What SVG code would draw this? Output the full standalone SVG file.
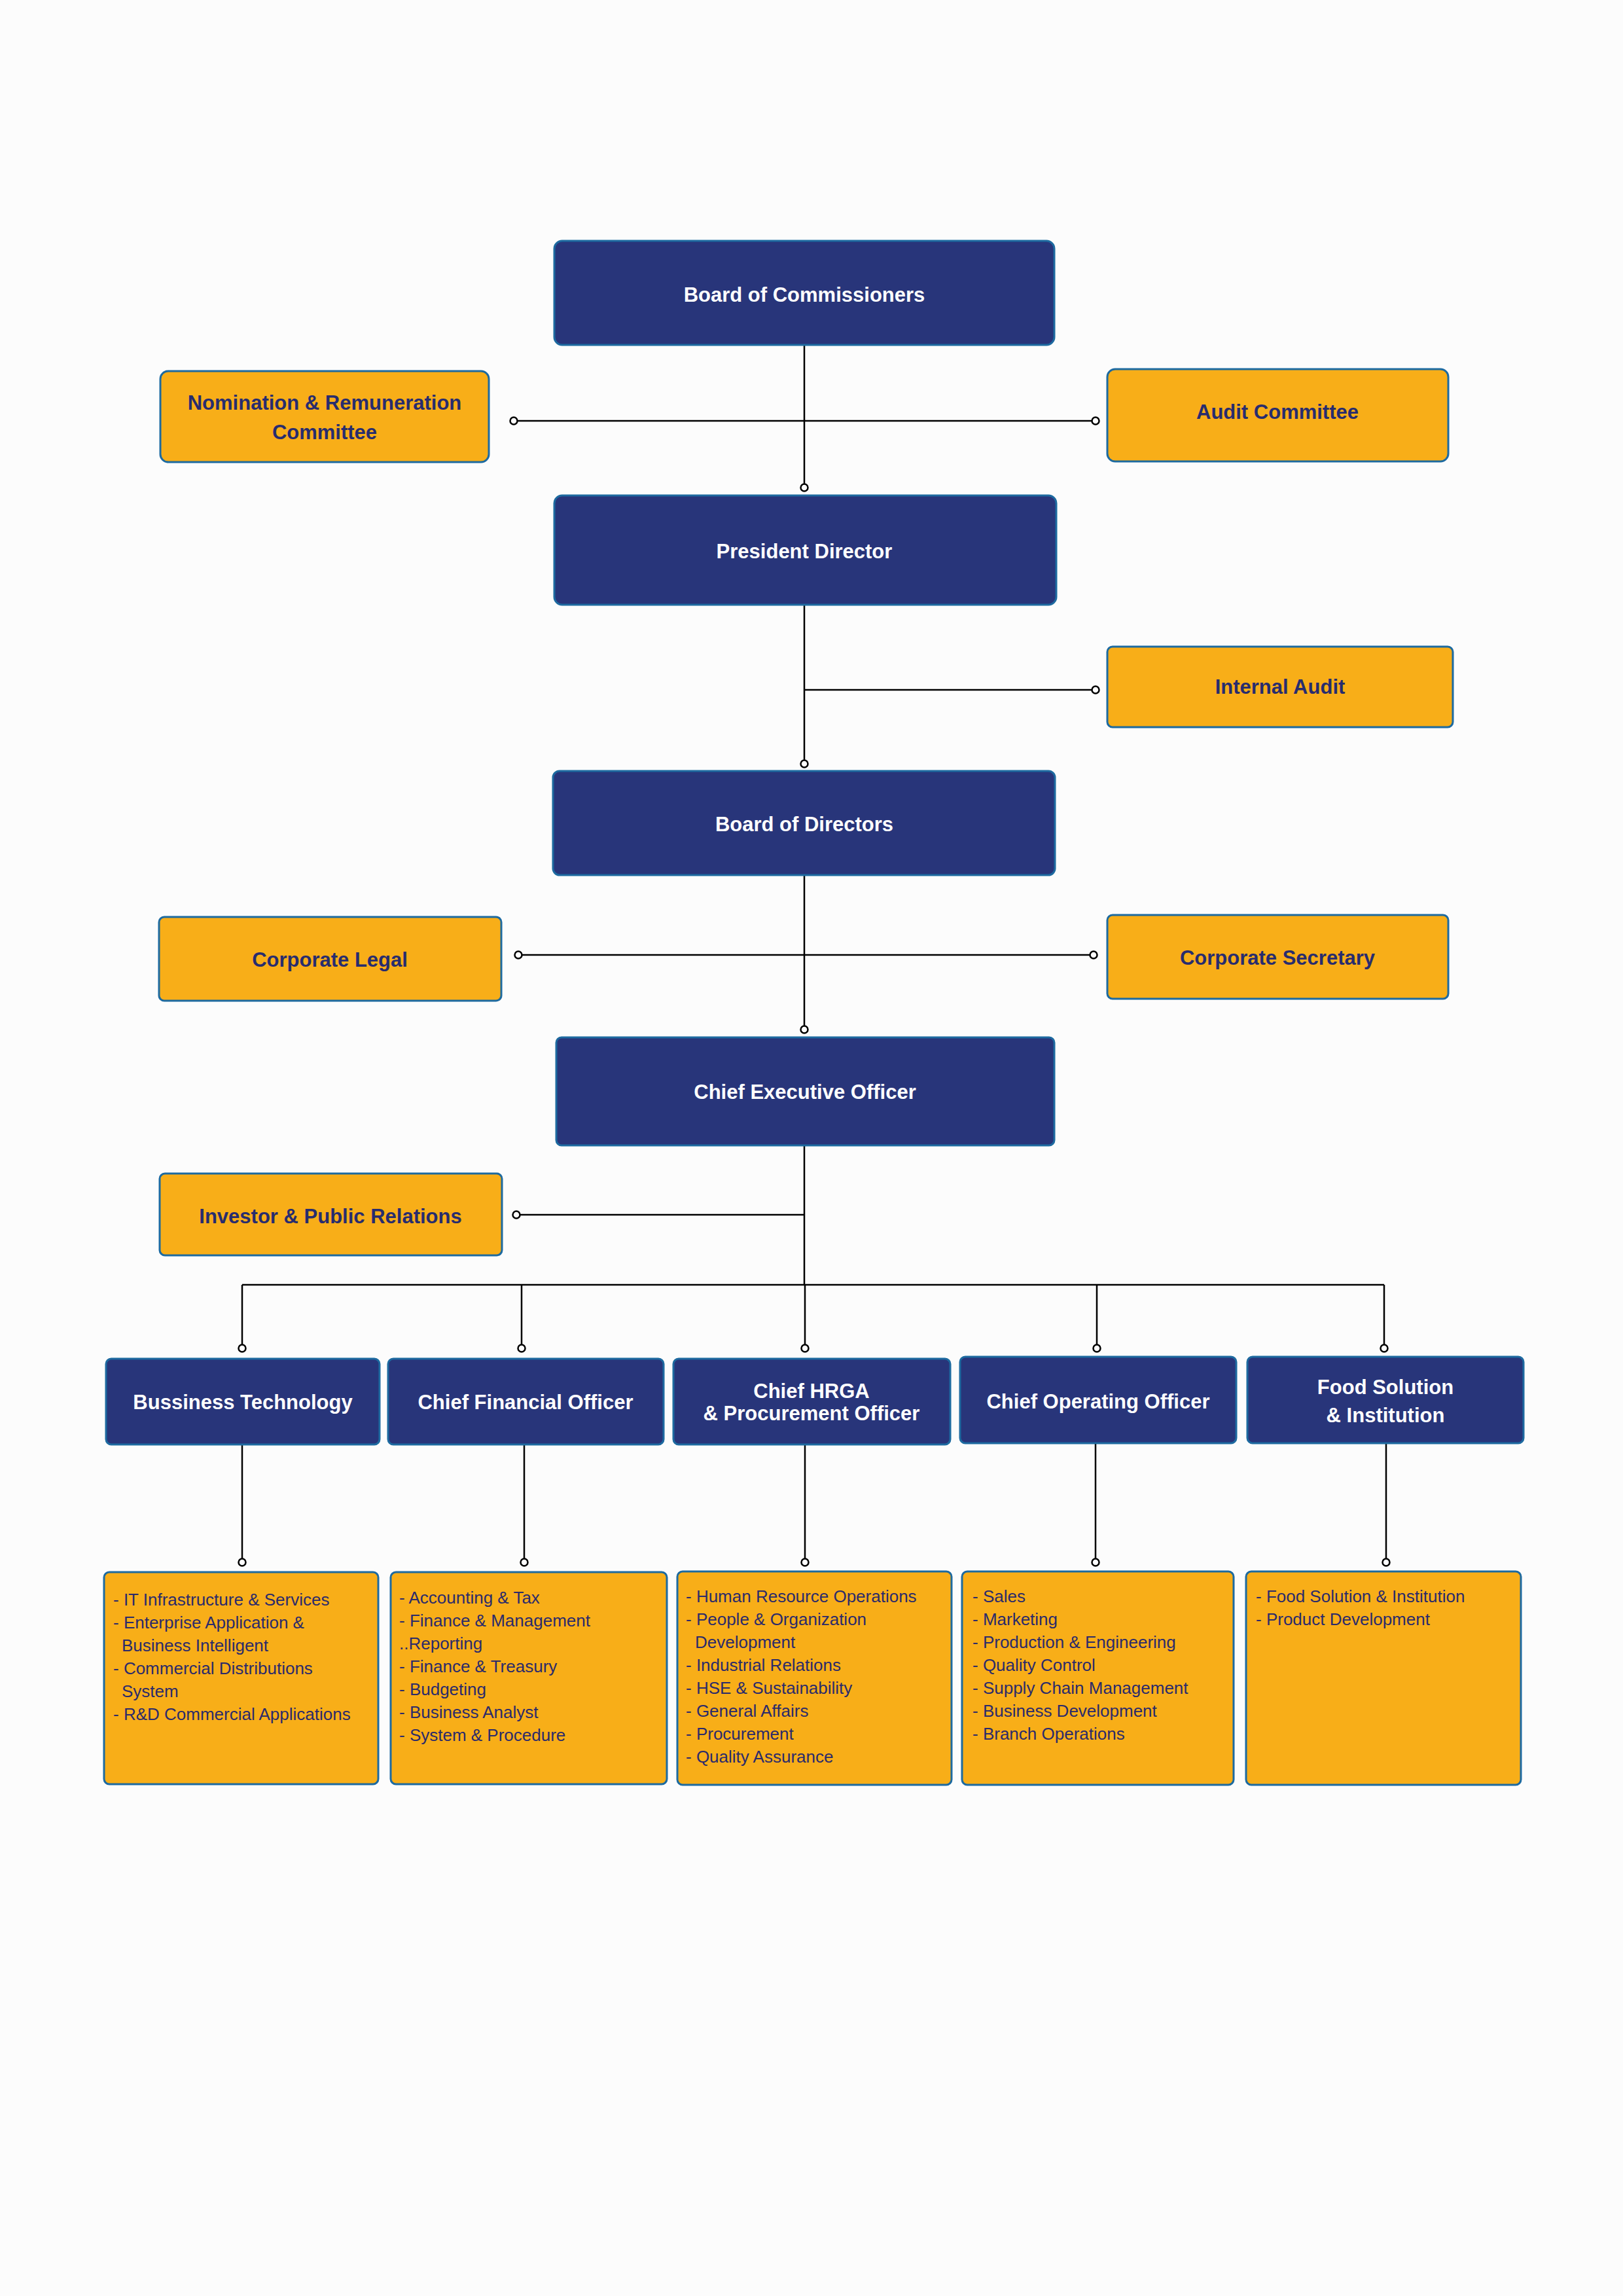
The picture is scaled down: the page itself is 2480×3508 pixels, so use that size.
<svg xmlns="http://www.w3.org/2000/svg" width="2480" height="3508" viewBox="0 0 2480 3508">
<defs>
<style>
.navy{fill:#28357a;stroke:#1d6aa0;stroke-width:3}
.gold{fill:#f8ae18;stroke:#1d6aa0;stroke-width:3}
.tw{font-family:"Liberation Sans",Arial,sans-serif;font-weight:bold;font-size:31px;fill:#ffffff;text-anchor:middle}
.tn{font-family:"Liberation Sans",Arial,sans-serif;font-weight:bold;font-size:31px;fill:#282c6e;text-anchor:middle}
.li{font-family:"Liberation Sans",Arial,sans-serif;font-size:26px;fill:#2b2a6b}
.ln{stroke:#000;stroke-width:2.5;fill:none}
.dot{fill:#fff;stroke:#000;stroke-width:2.5}
</style>
</defs>
<rect width="2480" height="3508" fill="#fcfcfc"/>
<g id="connectors">
<path class="ln" d="M1229 527V745M785 643H1674M1229 924V1167M1229 1054H1674M1229 1337V1573M792 1459H1671M1229 1750V1963M789 1856H1229M370 1963H2115M370 1963V2060M797 1963V2060M1230 1963V2060M1676 1963V2060M2115 1963V2060M370 2207V2387M801 2207V2387M1230 2207V2387M1674 2205V2387M2118 2205V2387"/>
<circle class="dot" cx="1229" cy="745" r="5.5"/>
<circle class="dot" cx="785" cy="643" r="5.5"/>
<circle class="dot" cx="1674" cy="643" r="5.5"/>
<circle class="dot" cx="1229" cy="1167" r="5.5"/>
<circle class="dot" cx="1674" cy="1054" r="5.5"/>
<circle class="dot" cx="1229" cy="1573" r="5.5"/>
<circle class="dot" cx="792" cy="1459" r="5.5"/>
<circle class="dot" cx="1671" cy="1459" r="5.5"/>
<circle class="dot" cx="789" cy="1856" r="5.5"/>
<circle class="dot" cx="370" cy="2060" r="5.5"/>
<circle class="dot" cx="797" cy="2060" r="5.5"/>
<circle class="dot" cx="1230" cy="2060" r="5.5"/>
<circle class="dot" cx="1676" cy="2060" r="5.5"/>
<circle class="dot" cx="2115" cy="2060" r="5.5"/>
<circle class="dot" cx="370" cy="2387" r="5.5"/>
<circle class="dot" cx="801" cy="2387" r="5.5"/>
<circle class="dot" cx="1230" cy="2387" r="5.5"/>
<circle class="dot" cx="1674" cy="2387" r="5.5"/>
<circle class="dot" cx="2118" cy="2387" r="5.5"/>
</g>
<g id="board-of-commissioners">
<rect class="navy" x="847" y="368" width="764" height="159" rx="12"/>
<text class="tw" x="1229" y="461">Board of Commissioners</text>
</g>
<g id="nomination-remuneration">
<rect class="gold" x="245" y="567" width="502" height="139" rx="12"/>
<text class="tn" x="496" y="626">Nomination &amp; Remuneration</text>
<text class="tn" x="496" y="671">Committee</text>
</g>
<g id="audit-committee">
<rect class="gold" x="1692" y="564" width="521" height="141" rx="12"/>
<text class="tn" x="1952" y="640">Audit Committee</text>
</g>
<g id="president-director">
<rect class="navy" x="847" y="757" width="767" height="167" rx="12"/>
<text class="tw" x="1229" y="853">President Director</text>
</g>
<g id="internal-audit">
<rect class="gold" x="1692" y="988" width="528" height="123" rx="8"/>
<text class="tn" x="1956" y="1060">Internal Audit</text>
</g>
<g id="board-of-directors">
<rect class="navy" x="845" y="1178" width="767" height="159" rx="10"/>
<text class="tw" x="1229" y="1270">Board of Directors</text>
</g>
<g id="corporate-legal">
<rect class="gold" x="243" y="1401" width="523" height="128" rx="8"/>
<text class="tn" x="504" y="1477">Corporate Legal</text>
</g>
<g id="corporate-secretary">
<rect class="gold" x="1692" y="1398" width="521" height="128" rx="8"/>
<text class="tn" x="1952" y="1474">Corporate Secretary</text>
</g>
<g id="ceo">
<rect class="navy" x="850" y="1585" width="761" height="165" rx="8"/>
<text class="tw" x="1230" y="1679">Chief Executive Officer</text>
</g>
<g id="investor-public-relations">
<rect class="gold" x="244" y="1793" width="523" height="125" rx="8"/>
<text class="tn" x="505" y="1869">Investor &amp; Public Relations</text>
</g>
<g id="business-technology">
<rect class="navy" x="162" y="2076" width="418" height="131" rx="8"/>
<text class="tw" x="371" y="2153">Bussiness Technology</text>
</g>
<g id="cfo">
<rect class="navy" x="593" y="2076" width="421" height="131" rx="8"/>
<text class="tw" x="803" y="2153">Chief Financial Officer</text>
</g>
<g id="chro">
<rect class="navy" x="1029" y="2076" width="423" height="131" rx="8"/>
<text class="tw" x="1240" y="2136">Chief HRGA</text>
<text class="tw" x="1240" y="2170">&amp; Procurement Officer</text>
</g>
<g id="coo">
<rect class="navy" x="1467" y="2073" width="422" height="132" rx="8"/>
<text class="tw" x="1678" y="2152">Chief Operating Officer</text>
</g>
<g id="food-solution">
<rect class="navy" x="1906" y="2073" width="422" height="132" rx="8"/>
<text class="tw" x="2117" y="2130">Food Solution</text>
<text class="tw" x="2117" y="2173">&amp; Institution</text>
</g>
<g id="bt-functions">
<rect class="gold" x="159" y="2402" width="419" height="324" rx="8"/>
<text class="li" x="173" y="2453">- IT Infrastructure &amp; Services</text>
<text class="li" x="173" y="2488">- Enterprise Application &amp;</text>
<text class="li" x="186" y="2523">Business Intelligent</text>
<text class="li" x="173" y="2558">- Commercial Distributions</text>
<text class="li" x="186" y="2593">System</text>
<text class="li" x="173" y="2628">- R&amp;D Commercial Applications</text>
</g>
<g id="cfo-functions">
<rect class="gold" x="597" y="2402" width="422" height="324" rx="8"/>
<text class="li" x="610" y="2450">- Accounting &amp; Tax</text>
<text class="li" x="610" y="2485">- Finance &amp; Management</text>
<text class="li" x="610" y="2520">..Reporting</text>
<text class="li" x="610" y="2555">- Finance &amp; Treasury</text>
<text class="li" x="610" y="2590">- Budgeting</text>
<text class="li" x="610" y="2625">- Business Analyst</text>
<text class="li" x="610" y="2660">- System &amp; Procedure</text>
</g>
<g id="chro-functions">
<rect class="gold" x="1035" y="2401" width="419" height="326" rx="8"/>
<text class="li" x="1048" y="2448">- Human Resource Operations</text>
<text class="li" x="1048" y="2483">- People &amp; Organization</text>
<text class="li" x="1062" y="2518">Development</text>
<text class="li" x="1048" y="2553">- Industrial Relations</text>
<text class="li" x="1048" y="2588">- HSE &amp; Sustainability</text>
<text class="li" x="1048" y="2623">- General Affairs</text>
<text class="li" x="1048" y="2658">- Procurement</text>
<text class="li" x="1048" y="2693">- Quality Assurance</text>
</g>
<g id="coo-functions">
<rect class="gold" x="1470" y="2401" width="415" height="326" rx="8"/>
<text class="li" x="1486" y="2448">- Sales</text>
<text class="li" x="1486" y="2483">- Marketing</text>
<text class="li" x="1486" y="2518">- Production &amp; Engineering</text>
<text class="li" x="1486" y="2553">- Quality Control</text>
<text class="li" x="1486" y="2588">- Supply Chain Management</text>
<text class="li" x="1486" y="2623">- Business Development</text>
<text class="li" x="1486" y="2658">- Branch Operations</text>
</g>
<g id="food-functions">
<rect class="gold" x="1904" y="2401" width="420" height="326" rx="8"/>
<text class="li" x="1919" y="2448">- Food Solution &amp; Institution</text>
<text class="li" x="1919" y="2483">- Product Development</text>
</g>
</svg>
